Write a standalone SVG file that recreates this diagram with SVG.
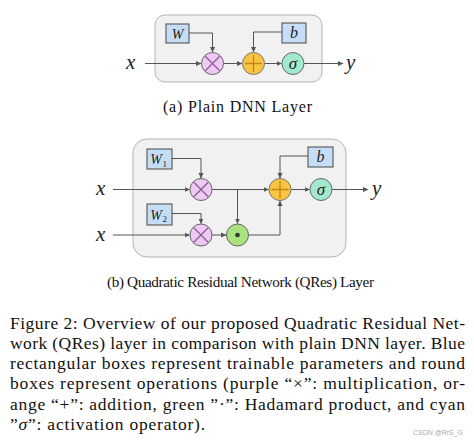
<svg xmlns="http://www.w3.org/2000/svg" width="474" height="444" viewBox="0 0 474 444">
<style>
.panel{fill:#f1f1f1;stroke:#b4b4b4;stroke-width:1}
.param{fill:#c6ddf6;stroke:#555;stroke-width:1.1}
.mul{fill:#eec9f3;stroke:#666;stroke-width:1}
.add{fill:#f8c444;stroke:#777;stroke-width:1}
.act{fill:#a2e9cf;stroke:#666;stroke-width:1}
.had{fill:#a9e27e;stroke:#666;stroke-width:1}
.sym{fill:none;stroke-width:1.3}
.conn path{fill:none;stroke:#555;stroke-width:1;marker-end:url(#ah)}
.math{font-family:"Liberation Serif","DejaVu Serif",serif;font-style:italic;fill:#222}
.sub{font-family:"Liberation Serif","DejaVu Serif",serif;font-style:normal;fill:#222;font-size:9px}
.cap{font-family:"Liberation Serif","DejaVu Serif",serif;fill:#111}
</style>
<defs>
<marker id="ah" markerWidth="6" markerHeight="6" refX="5" refY="3" orient="auto" markerUnits="userSpaceOnUse">
<path d="M0,0.5 L5.5,3 L0,5.5 Z" fill="#555"/>
</marker>
</defs>
<rect width="474" height="444" fill="#fff"/>

<!-- (a) Plain DNN Layer -->
<g id="panel-a"><rect class="panel" x="155" y="15" width="167" height="67" rx="10"/></g>
<g class="conn" id="connectors-a">
<path d="M145,63.5 H201"/>
<path d="M189,33 H212.5 V52"/>
<path d="M223.5,63.5 H242"/>
<path d="M282,32 H253.5 V52"/>
<path d="M264.5,63.5 H281.5"/>
<path d="M304,63.5 H343"/>
</g>
<g id="a-x"><text class="math" x="126" y="69" font-size="21">x</text></g>
<g id="a-W"><rect class="param" x="166" y="24" width="23" height="19"/><text class="math" x="177.5" y="38.5" font-size="14" text-anchor="middle">W</text></g>
<g id="a-b"><rect class="param" x="282" y="23" width="24" height="20"/><text class="math" x="294" y="38" font-size="16" text-anchor="middle">b</text></g>
<g id="a-mul"><circle class="mul" cx="212.5" cy="63.5" r="11"/><path class="sym" stroke="#8d5d93" d="M205.3,56.3 L219.7,70.7 M219.7,56.3 L205.3,70.7"/></g>
<g id="a-add"><circle class="add" cx="253.5" cy="63.5" r="11"/><path class="sym" stroke="#c58512" d="M253.5,55 V72 M245,63.5 H262"/></g>
<g id="a-act"><circle class="act" cx="293" cy="63.5" r="11"/><text class="math" x="293" y="69" font-size="17" text-anchor="middle" fill="#3c6f63">σ</text></g>
<g id="a-y"><text class="math" x="346" y="69" font-size="21">y</text></g>
<text class="cap" x="163" y="112" font-size="16" textLength="149" lengthAdjust="spacing">(a) Plain DNN Layer</text>

<!-- (b) QRes Layer -->
<g id="panel-b"><rect class="panel" x="133" y="139" width="213" height="118" rx="14"/></g>
<g class="conn" id="connectors-b">
<path d="M113,189.5 H189.5"/>
<path d="M172,158.5 H201 V178"/>
<path d="M212,189.5 H268.5"/>
<path d="M237.5,189.5 V223.5"/>
<path d="M113,235 H189.5"/>
<path d="M172,213.5 H201 V223.5"/>
<path d="M212,235 H226"/>
<path d="M248.5,235 H280 V201"/>
<path d="M308,156 H280 V178"/>
<path d="M291,189.5 H309.5"/>
<path d="M332,189.5 H368"/>
</g>
<g id="b-x1"><text class="math" x="96" y="195" font-size="21">x</text></g>
<g id="b-x2"><text class="math" x="96" y="241" font-size="21">x</text></g>
<g id="b-W1"><rect class="param" x="147" y="149" width="25" height="20"/><text class="math" x="156" y="164" font-size="14" text-anchor="middle">W</text><text class="sub" x="162.5" y="166.5">1</text></g>
<g id="b-W2"><rect class="param" x="147" y="204" width="25" height="21"/><text class="math" x="156" y="219.5" font-size="14" text-anchor="middle">W</text><text class="sub" x="162.5" y="222">2</text></g>
<g id="b-mul1"><circle class="mul" cx="201" cy="189.5" r="11"/><path class="sym" stroke="#8d5d93" d="M193.8,182.3 L208.2,196.7 M208.2,182.3 L193.8,196.7"/></g>
<g id="b-mul2"><circle class="mul" cx="201" cy="235" r="11"/><path class="sym" stroke="#8d5d93" d="M193.8,227.8 L208.2,242.2 M208.2,227.8 L193.8,242.2"/></g>
<g id="b-had"><circle class="had" cx="237.5" cy="235" r="11"/><circle cx="237.5" cy="235" r="2.3" fill="#333"/></g>
<g id="b-add"><circle class="add" cx="280" cy="189.5" r="11"/><path class="sym" stroke="#c58512" d="M280,181 V198 M271.5,189.5 H288.5"/></g>
<g id="b-b"><rect class="param" x="308" y="147" width="25" height="20"/><text class="math" x="320.5" y="162" font-size="16" text-anchor="middle">b</text></g>
<g id="b-act"><circle class="act" cx="321" cy="189.5" r="11"/><text class="math" x="321" y="195" font-size="17" text-anchor="middle" fill="#3c6f63">σ</text></g>
<g id="b-y"><text class="math" x="372" y="195" font-size="21">y</text></g>
<text class="cap" x="107" y="287" font-size="15.2" textLength="267" lengthAdjust="spacing">(b) Quadratic Residual Network (QRes) Layer</text>

<!-- Figure caption -->
<g class="cap" font-size="17.5">
<text x="10" y="329" textLength="455" lengthAdjust="spacing">Figure 2: Overview of our proposed Quadratic Residual Net-</text>
<text x="10" y="349" textLength="455" lengthAdjust="spacing">work (QRes) layer in comparison with plain DNN layer. Blue</text>
<text x="10" y="369" textLength="455" lengthAdjust="spacing">rectangular boxes represent trainable parameters and round</text>
<text x="10" y="389" textLength="455" lengthAdjust="spacing">boxes represent operations (purple “×”: multiplication, or-</text>
<text x="10" y="410" textLength="455" lengthAdjust="spacing">ange “+”: addition, green ”·”: Hadamard product, and cyan</text>
<text x="10" y="430" textLength="195" lengthAdjust="spacing">”<tspan font-style="italic">σ</tspan>”: activation operator).</text>
</g>
<text x="413" y="435" font-family="Liberation Sans,sans-serif" font-size="7" fill="#aaa" textLength="50" lengthAdjust="spacing">CSDN @RrS_G</text>
</svg>
